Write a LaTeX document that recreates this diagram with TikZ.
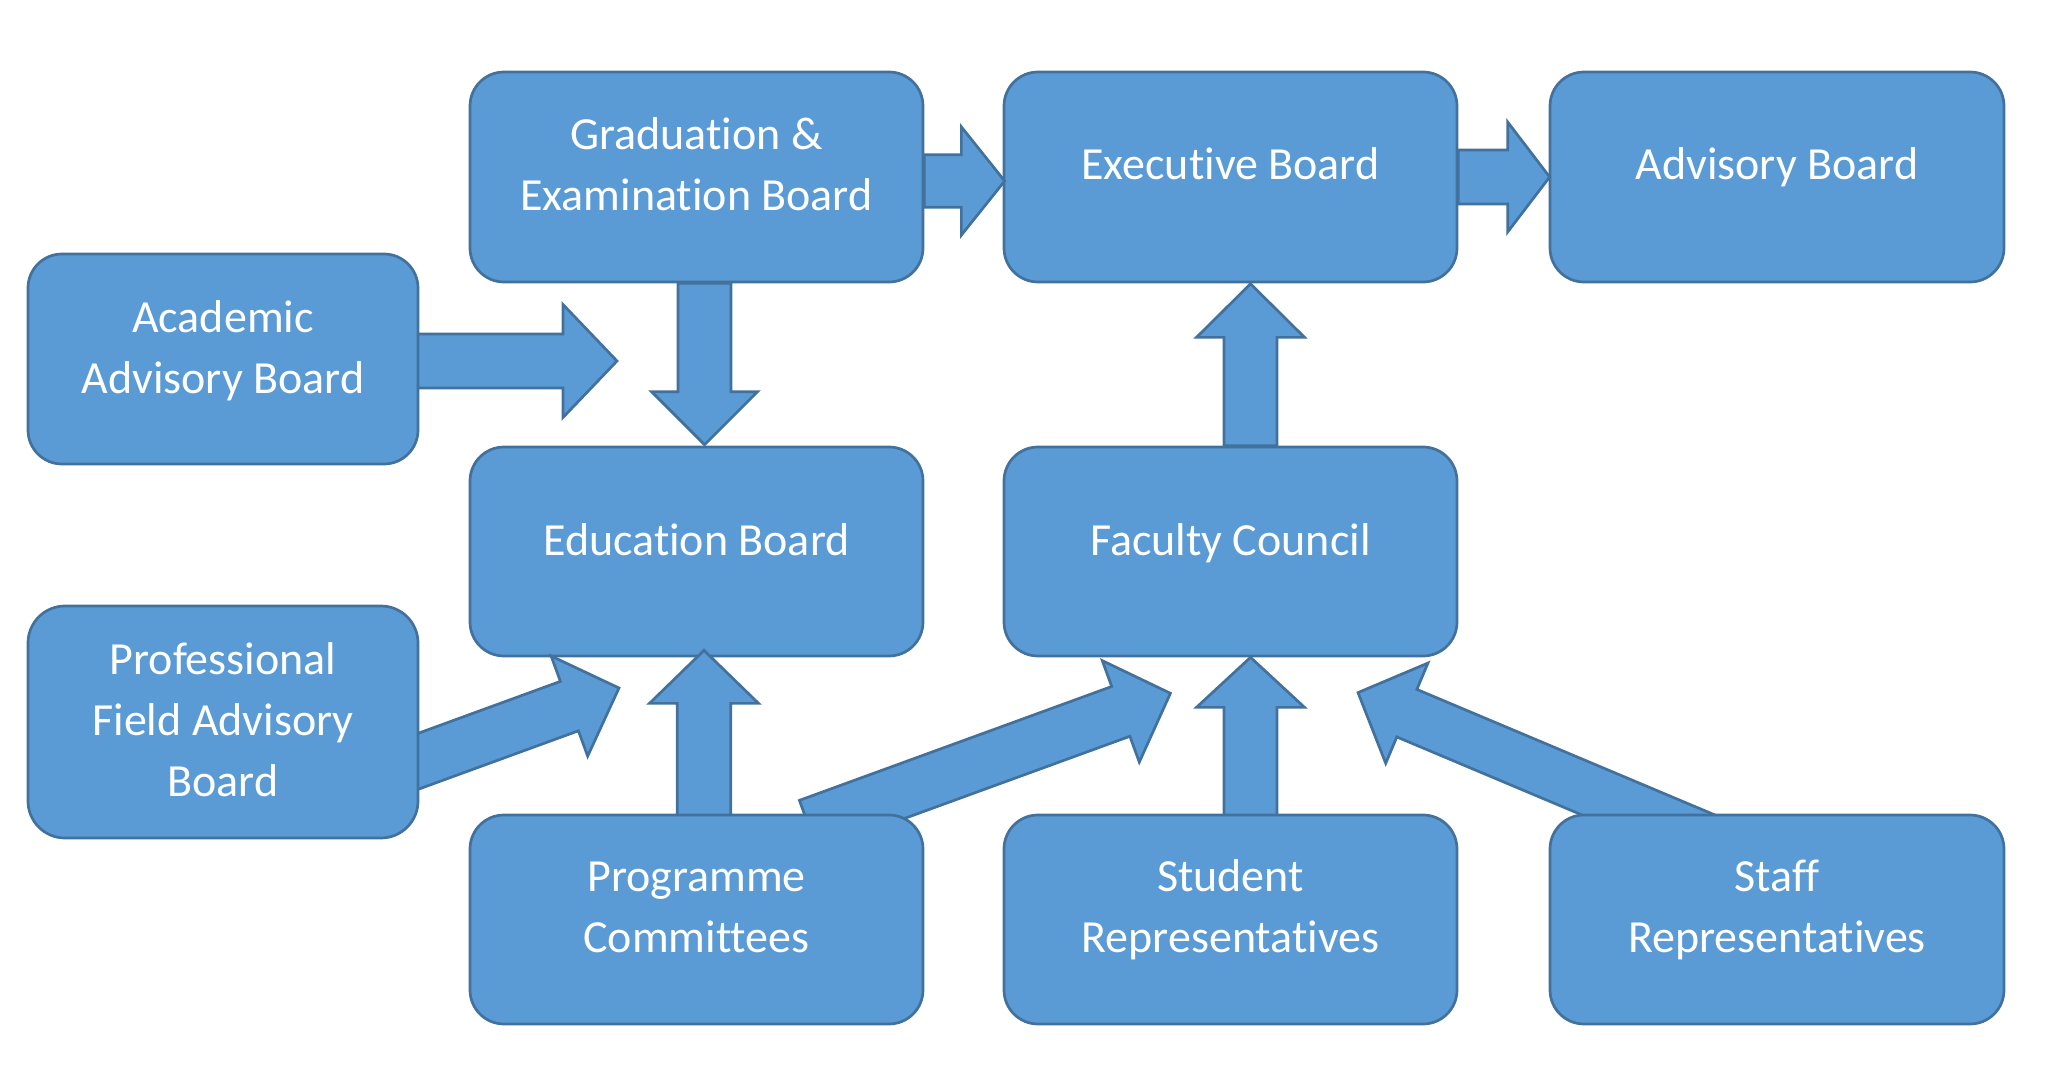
\documentclass[tikz,border=0pt]{standalone}
\usepackage{fontspec}
\setmainfont{Carlito}[Ligatures={NoCommon,NoRequired,NoContextual}]
\usetikzlibrary{calc}
\pgfdeclarelayer{front}
\pgfsetlayers{main,front}
\definecolor{boxfill}{HTML}{5B9BD5}
\definecolor{boxline}{HTML}{41719C}
\newcommand\lines[1]{\begin{tabular}{@{}c@{}}#1\end{tabular}}
% block arrow: #1 tail, #2 tip, #3 shaft half width, #4 head half width, #5 head length
\newcommand\blockarrow[5]{%
  \coordinate (hb) at ($(#2)!#5!(#1)$);
  \draw[arr] ($(#1)!#3!90:(#2)$) -- ($(hb)!#3!90:(#2)$) -- ($(hb)!#4!90:(#2)$) -- (#2)
     -- ($(hb)!#4!-90:(#2)$) -- ($(hb)!#3!-90:(#2)$) -- ($(#1)!#3!-90:(#2)$) -- cycle;}
\tikzset{
  box/.style={draw=boxline, fill=boxfill, line width=2.7pt, rounded corners=34pt, inner sep=0pt},
  txt/.style={text=white, inner sep=0pt, font=\fontsize{46}{61}\selectfont},
  arr/.style={draw=boxline, fill=boxfill, line width=2.7pt, line join=miter},
}
\begin{document}
\begin{tikzpicture}[x=1pt,y=-1pt]
\useasboundingbox (0,0) rectangle (2070,1070);
% upper boxes (targets)
\node[box, minimum width=453pt, minimum height=210pt] (grad) at (696.5,177) {};
\node[box, minimum width=453pt, minimum height=210pt] (exec) at (1230.5,177) {};
\node[box, minimum width=454pt, minimum height=210pt] (adv) at (1777,177) {};
\node[box, minimum width=453pt, minimum height=209pt] (edu) at (696.5,551.5) {};
\node[box, minimum width=453pt, minimum height=209pt] (fac) at (1230.5,551.5) {};
\node[txt] (grad-t) at ($(grad.center)+(0,-9)$) {\lines{Graduation \&\\Examination Board}};
\node[txt] (exec-t) at ($(exec.center)+(0,-9.5)$) {\lines{Executive Board}};
\node[txt] (adv-t) at ($(adv.center)+(0,-9.5)$) {\lines{Advisory Board}};
\node[txt] (edu-t) at ($(edu.center)+(0,-8.2)$) {\lines{Education Board}};
\node[txt] (fac-t) at ($(fac.center)+(0,-8.2)$) {\lines{Faculty Council}};
% lower / left boxes (sources), drawn in front of arrow tails
\begin{pgfonlayer}{front}
\node[box, minimum width=390pt, minimum height=210pt] (acad) at (223,359) {};
\node[box, minimum width=390pt, minimum height=232pt, rounded corners=37pt] (prof) at (223,722) {};
\node[box, minimum width=453pt, minimum height=209pt] (prog) at (696.5,919.5) {};
\node[box, minimum width=453pt, minimum height=209pt] (stud) at (1230.5,919.5) {};
\node[box, minimum width=454pt, minimum height=209pt] (staff) at (1777,919.5) {};
\node[txt] (acad-t) at ($(acad.center)+(0,-8.7)$) {\lines{Academic\\Advisory Board}};
\node[txt] (prof-t) at ($(prof.center)+(0,1)$) {\lines{Professional\\Field Advisory\\Board}};
\node[txt] (prog-t) at ($(prog.center)+(0,-10)$) {\lines{Programme\\Committees}};
\node[txt] (stud-t) at ($(stud.center)+(0,-10)$) {\lines{Student\\Representatives}};
\node[txt] (staff-t) at ($(staff.center)+(0,-10)$) {\lines{Staff\\Representatives}};
\end{pgfonlayer}
% arrow end points
\coordinate (a1s) at ($(grad.east)+(0,4)$);
\coordinate (a1e) at ($(exec.west)+(2,4)$);
\coordinate (a2s) at (exec.east);
\coordinate (a2e) at ($(adv.west)+(1,0)$);
\coordinate (a3s) at ($(acad.east)+(-30,2)$);
\coordinate (a3e) at (617,361);
\coordinate (a4s) at ($(grad.south)+(8,0)$);
\coordinate (a4e) at ($(edu.north)+(8,-1)$);
\coordinate (a5s) at ($(fac.north)+(20,0)$);
\coordinate (a5e) at ($(exec.south)+(20,0.5)$);
\coordinate (a6s) at ($(prog.north)+(7.5,20)$);
\coordinate (a6e) at ($(edu.south)+(7.5,-7)$);
\coordinate (a7s) at ($(prof.east)+(-43.4,54.7)$);
\coordinate (a7e) at (619,688);
\coordinate (a8s) at ($(prog.north)+(112,11.6)$);
\coordinate (a8e) at (1170.4,693.3);
\coordinate (a9s) at ($(stud.north)+(20,20)$);
\coordinate (a9e) at ($(fac.south)+(20,0)$);
\coordinate (a10s) at ($(staff.north)+(-51,34)$);
\coordinate (a10e) at (1358,692.6);
% block arrows
\blockarrow{a1s}{a1e}{26.3pt}{54.2pt}{43.3pt}
\blockarrow{a2s}{a2e}{27pt}{55pt}{42pt}
\blockarrow{a3s}{a3e}{27pt}{56.5pt}{54pt}
\blockarrow{a4s}{a4e}{26.5pt}{53pt}{53pt}
\blockarrow{a5s}{a5e}{26.5pt}{54pt}{53.5pt}
\blockarrow{a6s}{a6e}{26.8pt}{54.5pt}{53pt}
\blockarrow{a7s}{a7e}{26.3pt}{53.3pt}{52.8pt}
\blockarrow{a8s}{a8e}{26.5pt}{54pt}{52.8pt}
\blockarrow{a9s}{a9e}{26.5pt}{54pt}{50pt}
\blockarrow{a10s}{a10e}{25.8pt}{54.4pt}{53pt}
\end{tikzpicture}
\end{document}
